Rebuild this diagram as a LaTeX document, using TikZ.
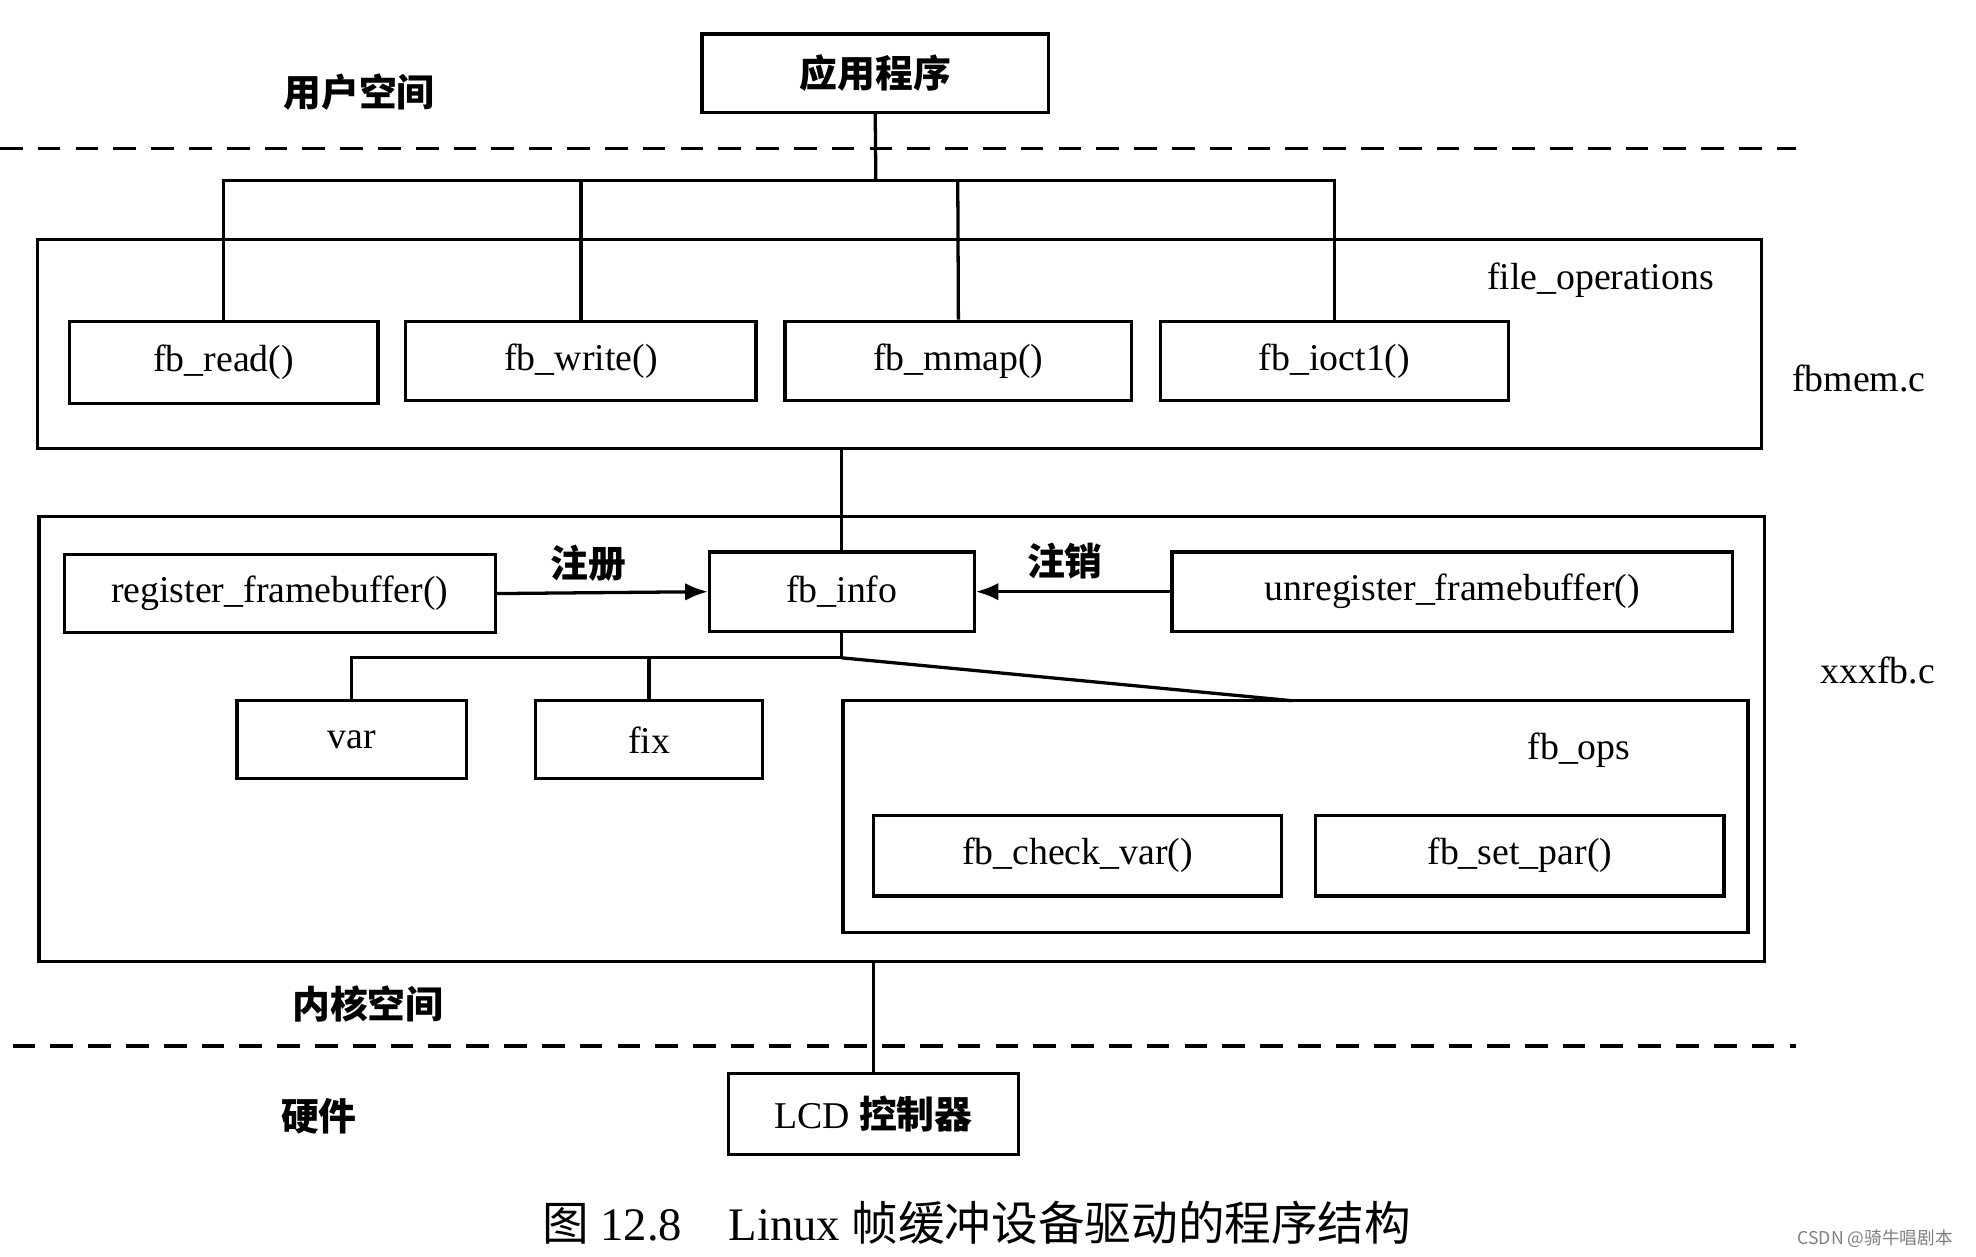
\documentclass[tikz,border=0pt]{standalone}
\usepackage{fontspec}
\setmainfont{Liberation Serif}
\newfontfamily\cjk{Noto Sans CJK SC}
\usetikzlibrary{arrows.meta}
\begin{document}
\begin{tikzpicture}[x=0.5pt,y=-0.5pt,
  bx/.style={draw,line width=1.3pt,inner sep=0pt},
  ln/.style={line width=1.3pt},
  tx/.style={font=\fontsize{15}{18}\selectfont,inner sep=0pt},
  ch/.style={font=\cjk\bfseries\fontsize{15}{18}\selectfont,inner sep=0pt}]
\useasboundingbox (0,0) rectangle (1568,997);
\fill[white] (0,0) rectangle (1568,997);
\node[bx,minimum width=137.5pt,minimum height=31pt,ch] (app) at (694.5,58) {应用程序};
\node[ch] (us) at (285,73) {用户空间};
\draw[ln,dash pattern=on 9pt off 6pt] (0,118) -- (1425,118);
% fbmem
\draw[ln] (30,190) rectangle (1398,356);
\coordinate (fbmemS) at (668,356);
\node[tx] at (1270,222) {file\_operations};
\node[tx] at (1475,300) {fbmem.c};
\node[bx,tx,minimum width=122.5pt,minimum height=32.5pt] (rd) at (177.5,287.5) {fb\_read()};
\node[bx,tx,minimum width=139pt,minimum height=31.5pt] (wr) at (461,286.5) {fb\_write()};
\node[bx,tx,minimum width=137.5pt,minimum height=31.5pt] (mm) at (760.5,286.5) {fb\_mmap()};
\node[bx,tx,minimum width=138pt,minimum height=31.5pt] (io) at (1059,286.5) {fb\_ioct1()};
\coordinate (j) at (695,143);
\draw[ln] (app.south) -- (j);
\draw[ln] (rd.north) |- (j) -| (io.north);
\draw[ln] (wr.north) -- (461,143);
\draw[ln] (mm.north) -- (760,143);
% xxxfb
\draw[ln] (31,410) rectangle (1400,763);
\node[tx] at (1490,532) {xxxfb.c};
\node[bx,tx,minimum width=171pt,minimum height=31pt] (reg) at (222,471) {register\_framebuffer()};
\node[bx,tx,minimum width=105pt,minimum height=31.5pt] (info) at (668,469.5) {fb\_info};
\node[bx,tx,minimum width=222.5pt,minimum height=31.5pt] (unreg) at (1152.5,469.5) {unregister\_framebuffer()};
\draw[ln] (fbmemS) -- (info.north);
\draw[ln,-{Latex[length=9pt,width=7pt]}] (reg.east) -- (info.west);
\draw[ln,-{Latex[length=9pt,width=7pt]}] (unreg.west) -- (info.east);
\node[ch] at (467,447) {注册};
\node[ch] at (845,445) {注销};
\node[bx,tx,minimum width=91pt,minimum height=31pt] (var) at (279,587) {var};
\node[bx,tx,minimum width=90pt,minimum height=31pt] (fix) at (515,587) {fix};
\draw[ln] (669,556) rectangle (1387,740);
\coordinate (opsT) at (1025,556);
\node[tx] at (1253,595) {fb\_ops};
\node[bx,tx,minimum width=162pt,minimum height=32pt] (chk) at (855,679) {fb\_check\_var()};
\node[bx,tx,minimum width=162pt,minimum height=32pt] (set) at (1206,679) {fb\_set\_par()};
\coordinate (k) at (668,522);
\draw[ln] (info.south) -- (k);
\draw[ln] (var.north) |- (k);
\draw[ln] (fix.north) -- (515,522);
\draw[ln] (k) -- (opsT);
% kernel / hw
\node[ch] at (292,797) {内核空间};
\draw[ln,dash pattern=on 9pt off 6pt] (10,830) -- (1425,830);
\node[bx,minimum width=115pt,minimum height=32pt,inner sep=0pt] (lcd) at (693,884) {\fontsize{15}{18}\selectfont LCD {\cjk\bfseries 控制器}};
\draw[ln] (693,763) -- (lcd.north);
\node[ch] at (253,886) {硬件};
\node[inner sep=0pt] at (775,970) {\fontsize{18.5}{22}\selectfont{\cjk 图} 12.8\quad Linux {\cjk 帧缓冲设备驱动的程序结构}};
\node[inner sep=0pt,text=gray] at (1488,983) {\cjk\fontsize{7}{8}\selectfont CSDN @骑牛唱剧本};
\end{tikzpicture}
\end{document}
